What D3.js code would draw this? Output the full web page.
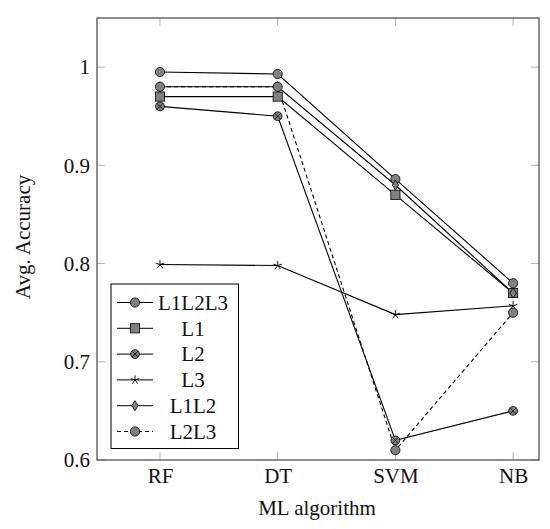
<!DOCTYPE html>
<html><head><meta charset="utf-8">
<script src="https://cdn.jsdelivr.net/npm/d3@7"></script>
<style>body{margin:0;background:#fff}svg{display:block}
svg text{font-family:"Liberation Serif","DejaVu Serif","Noto Serif","Times New Roman",Times,serif !important;}
</style>
</head><body>
<svg id="c" width="550" height="529"></svg>
<script>
const categories = ["RF","DT","SVM","NB"];
const yTicks = [0.6,0.7,0.8,0.9,1];
const yTickLabels = ["0.6","0.7","0.8","0.9","1"];
const seriesNames = ["L1L2L3","L1","L2","L3","L1L2","L2L3"];
const seriesMarks = ["circle","square","otimes","star","diamond","circle"];
const seriesDash = [false,false,false,false,false,true];
const valL1L2L3 = [0.995,0.993,0.886,0.780];
const valL1     = [0.970,0.970,0.870,0.770];
const valL2     = [0.960,0.950,0.620,0.650];
const valL3     = [0.799,0.798,0.748,0.757];
const valL1L2   = [0.980,0.980,0.880,0.770];
const valL2L3   = [0.980,0.980,0.610,0.750];
const seriesValues = [valL1L2L3,valL1,valL2,valL3,valL1L2,valL2L3];

const FILL = "#808080";
const svg = d3.select("#c");
const L = 97, R = 539, T = 18, B = 460;
const x = d3.scaleLinear().domain([-0.535, 3.22]).range([L, R]);
const y = d3.scaleLinear().domain([0.6, 1.05]).range([B, T]);

const tickCol = "#b3b3b3";
const g = svg.append("g");
yTicks.forEach(v => {
  g.append("line").attr("x1", L).attr("x2", L+8).attr("y1", y(v)).attr("y2", y(v)).attr("stroke", tickCol);
  g.append("line").attr("x1", R-8).attr("x2", R).attr("y1", y(v)).attr("y2", y(v)).attr("stroke", tickCol);
});
categories.forEach((c,i) => {
  g.append("line").attr("x1", x(i)).attr("x2", x(i)).attr("y1", B).attr("y2", B-8).attr("stroke", tickCol);
  g.append("line").attr("x1", x(i)).attr("x2", x(i)).attr("y1", T).attr("y2", T+8).attr("stroke", tickCol);
});

const yAxis = svg.append("g").attr("transform", `translate(${L},0)`)
  .call(d3.axisLeft(y).tickValues(yTicks).tickFormat((d,i)=>yTickLabels[i]).tickSize(0).tickPadding(7));
yAxis.select(".domain").remove();
yAxis.selectAll("text").attr("font-size", 21).attr("fill","#111");
const xAxis = svg.append("g").attr("transform", `translate(0,${B})`)
  .call(d3.axisBottom(x).tickValues(d3.range(categories.length)).tickFormat(i=>categories[i]).tickSize(0).tickPadding(8));
xAxis.select(".domain").remove();
xAxis.selectAll("text").attr("font-size", 21).attr("fill","#111");
yAxis.attr("font-size", 21); xAxis.attr("font-size", 21);

svg.append("text").attr("x", 317).attr("y", 515).attr("text-anchor","middle")
  .attr("font-size", 21).attr("fill","#111").text("ML algorithm");
svg.append("text").attr("transform","translate(30,237) rotate(-90)").attr("text-anchor","middle")
  .attr("font-size", 21).attr("fill","#111").text("Avg. Accuracy");

function drawMark(sel, type, cx, cy) {
  const s = sel.append("g").attr("transform", `translate(${cx},${cy})`);
  if (type === "circle") {
    s.append("circle").attr("r", 4.6).attr("fill", FILL).attr("stroke", "#000").attr("stroke-width", 0.8);
  } else if (type === "square") {
    s.append("rect").attr("x",-4.6).attr("y",-4.6).attr("width",9.2).attr("height",9.2).attr("fill", FILL).attr("stroke","#000").attr("stroke-width",0.8);
  } else if (type === "otimes") {
    s.append("circle").attr("r", 4.4).attr("fill", FILL).attr("stroke", "#000").attr("stroke-width", 0.8);
    const d = 4.4*Math.SQRT1_2;
    s.append("path").attr("d", `M${-d},${-d}L${d},${d}M${-d},${d}L${d},${-d}`).attr("stroke","#000").attr("stroke-width",0.8);
  } else if (type === "diamond") {
    s.append("path").attr("d","M0,-5L3.2,0L0,5L-3.2,0Z").attr("fill", FILL).attr("stroke","#000").attr("stroke-width",0.8);
  } else if (type === "star") {
    let p = "";
    for (let k=0;k<5;k++){ const a = -Math.PI/2 + k*2*Math.PI/5; p += `M0,0L${4.6*Math.cos(a)},${4.6*Math.sin(a)}`; }
    s.append("path").attr("d", p).attr("stroke","#000").attr("stroke-width",0.9).attr("fill","none");
  }
}

const line = d3.line().x((d,i)=>x(i)).y(d=>y(d));
const lineLayer = svg.append("g");
const markLayer = svg.append("g");
// lines drawn in reverse order so solid lines sit over the dashed one
seriesValues.slice().reverse().forEach((vals, ri) => {
  const si = seriesValues.length - 1 - ri;
  lineLayer.append("path").attr("d", line(vals)).attr("fill","none").attr("stroke","#000").attr("stroke-width",1.1)
    .attr("stroke-dasharray", seriesDash[si] ? "4,3" : null);
});
seriesValues.forEach((vals, si) => {
  vals.forEach((v,i) => drawMark(markLayer, seriesMarks[si], x(i), y(v)));
});

svg.append("rect").attr("x", L).attr("y", T).attr("width", R-L).attr("height", B-T)
  .attr("fill","none").attr("stroke","#333").attr("stroke-width",1.1);

const lg = svg.append("g");
const LX = 111, LY = 284, LW = 127.5, LH = 164.5;
lg.append("rect").attr("x", LX).attr("y", LY).attr("width", LW).attr("height", LH)
  .attr("fill","#fff").attr("stroke","#000").attr("stroke-width",1);
const rowY = d3.scaleLinear().domain([0,5]).range([302.5, 431.5]);
seriesNames.forEach((n, si) => {
  const ry = rowY(si);
  lg.append("line").attr("x1", 117).attr("x2", 153).attr("y1", ry).attr("y2", ry)
    .attr("stroke","#000").attr("stroke-width",1).attr("stroke-dasharray", seriesDash[si] ? "4,3" : null);
  drawMark(lg, seriesMarks[si], 135, ry);
  lg.append("text").attr("x", 193).attr("y", ry).attr("dy","0.35em").attr("text-anchor","middle")
    .attr("font-size", 21).attr("fill","#111").text(n);
});
</script>
</body></html>
